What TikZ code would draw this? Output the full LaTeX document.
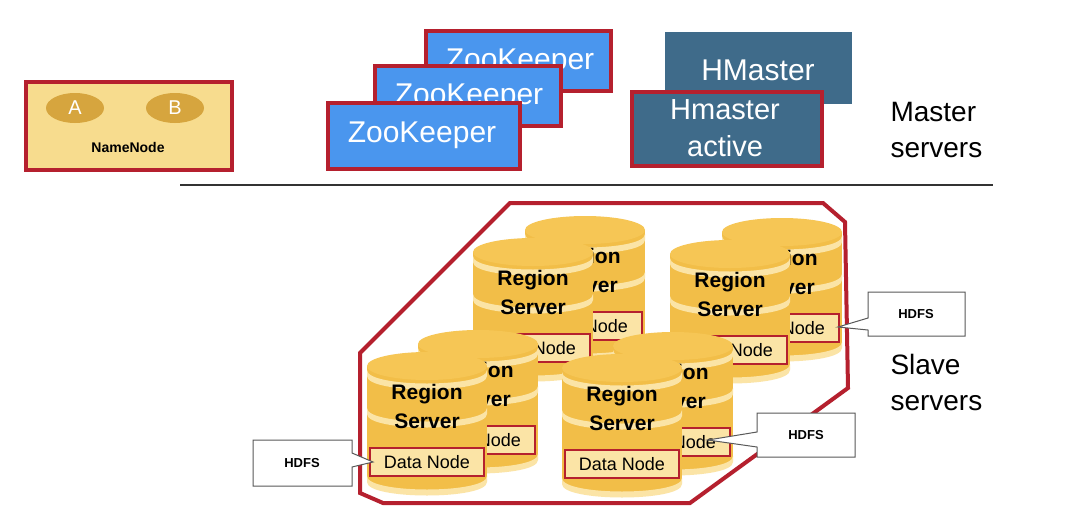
\documentclass[tikz,border=0pt]{standalone}
\usepackage{fontspec}
\setmainfont{Liberation Sans}
\usetikzlibrary{shapes.geometric}
\definecolor{hred}{HTML}{B5202E}
\definecolor{zk}{HTML}{4A96EE}
\definecolor{hm}{HTML}{3F6B8A}
\definecolor{nn}{HTML}{F7DC8E}
\definecolor{nnell}{HTML}{D6A53E}
\definecolor{cbody}{HTML}{F2BE48}
\definecolor{ctop}{HTML}{F6C655}
\definecolor{clight}{HTML}{FBE4A6}
\tikzset{
  zkbox/.style={draw=hred,line width=3.5pt,fill=zk,text=white,inner sep=0pt,anchor=north west,font=\fontsize{30}{32}\selectfont},
  fs/.style={font=\fontsize{#1}{#1}\selectfont},
  callout/.style={draw=gray!70!black,fill=white,line width=1pt},
}
\newcommand\mycyl[2]{%
\begin{scope}[shift={(#1,#2)}]
 \fill[cbody] (0,14) rectangle (120,128);
 \fill[cbody] (60,128) ellipse [x radius=60,y radius=14];
 \foreach \b in {18,56,124}{
 \fill[clight] (0,\b) .. controls (0,\b+18) and (120,\b+18) .. (120,\b) -- (120,\b+6) .. controls (120,\b+24) and (0,\b+24) .. (0,\b+6) -- cycle;}
 \fill[ctop] (60,14) ellipse [x radius=60,y radius=14];
 \node[font=\bfseries\fontsize{21}{21}\selectfont] at (60,42) {Region};
 \node[font=\bfseries\fontsize{21}{21}\selectfont] at (60,69) {Server};
 \node[draw=hred,line width=2pt,fill=clight,minimum width=114,minimum height=28,inner sep=0pt,fs=18] at (60,110) {Data Node};
\end{scope}}
\begin{document}
\begin{tikzpicture}[x=1pt,y=-1pt]
\useasboundingbox[fill=white] (0,0) rectangle (1080,523);
% NameNode
\node[draw=hred,line width=4pt,fill=nn,minimum width=206,minimum height=88,anchor=north west,inner sep=0pt] (nnbox) at (24,80) {};
\node[ellipse,fill=nnell,minimum width=58,minimum height=30,text=white,fs=20,inner sep=0pt] (ea) at (75,108) {A};
\node[ellipse,fill=nnell,minimum width=58,minimum height=30,text=white,fs=20,inner sep=0pt] (eb) at (175,108) {B};
\node[font=\bfseries\fontsize{14}{14}\selectfont] (nnlab) at (128,147) {NameNode};
% ZooKeepers
\node[zkbox,minimum width=185,minimum height=60] (z3) at (424,29) {};
\node[text=white,fs=30] (z3t) at (520,62) {ZooKeeper};
\node[zkbox,minimum width=186,minimum height=60] (z2) at (373,64) {};
\node[text=white,fs=30] (z2t) at (469,97) {ZooKeeper};
\node[zkbox,minimum width=192,minimum height=66] (z1) at (326,101) {};
\node[text=white,fs=30] (z1t) at (422,135) {ZooKeeper};
% HMaster
\node[fill=hm,minimum width=187,minimum height=72,anchor=north west,inner sep=0pt] (hm1) at (665,32) {};
\node[text=white,fs=30] (hm1t) at (758,70) {HMaster};
\node[draw=hred,line width=4pt,fill=hm,minimum width=190,minimum height=74,anchor=north west,inner sep=0pt] (hm2) at (630,90) {};
\node[text=white,fs=29,align=center] (hm2t) at (725,128) {Hmaster\\[8pt]active};
% labels
\node[fs=28,anchor=west,align=left] (ms) at (887,130) {Master\\[8pt]servers};
\node[fs=28,anchor=west,align=left] (ss) at (887,382) {Slave\\[8pt]servers};
% separator
\draw[line width=2.5pt,black!80] (180,185) -- (993,185);
% slave region
\draw[hred,line width=4pt] (510,203) -- (823,203) -- (845,222) -- (848,388) -- (690,503) -- (383,503) -- (360,493) -- (360,353) -- cycle;
\mycyl{525}{216}
\mycyl{473}{238}
\mycyl{722}{218}
\mycyl{670}{240}
\mycyl{418}{330}
\mycyl{367}{352}
\mycyl{613}{332}
\mycyl{562}{354}
% HDFS callouts
\draw[callout] (253,440) -- (352,440) -- (352,453) -- (373,462) -- (352,467) -- (352,486) -- (253,486) -- cycle;
\node[font=\bfseries\fontsize{13}{13}\selectfont] (h1) at (302,463) {HDFS};
\draw[callout] (757,413) -- (855,413) -- (855,457) -- (757,457) -- (757,447) -- (708,440) -- (757,432) -- cycle;
\node[font=\bfseries\fontsize{13}{13}\selectfont] (h2) at (806,435) {HDFS};
\draw[callout] (868,292) -- (965,292) -- (965,336) -- (868,336) -- (868,330) -- (838,327) -- (868,318) -- cycle;
\node[font=\bfseries\fontsize{13}{13}\selectfont] (h3) at (916,314) {HDFS};
\end{tikzpicture}
\end{document}
